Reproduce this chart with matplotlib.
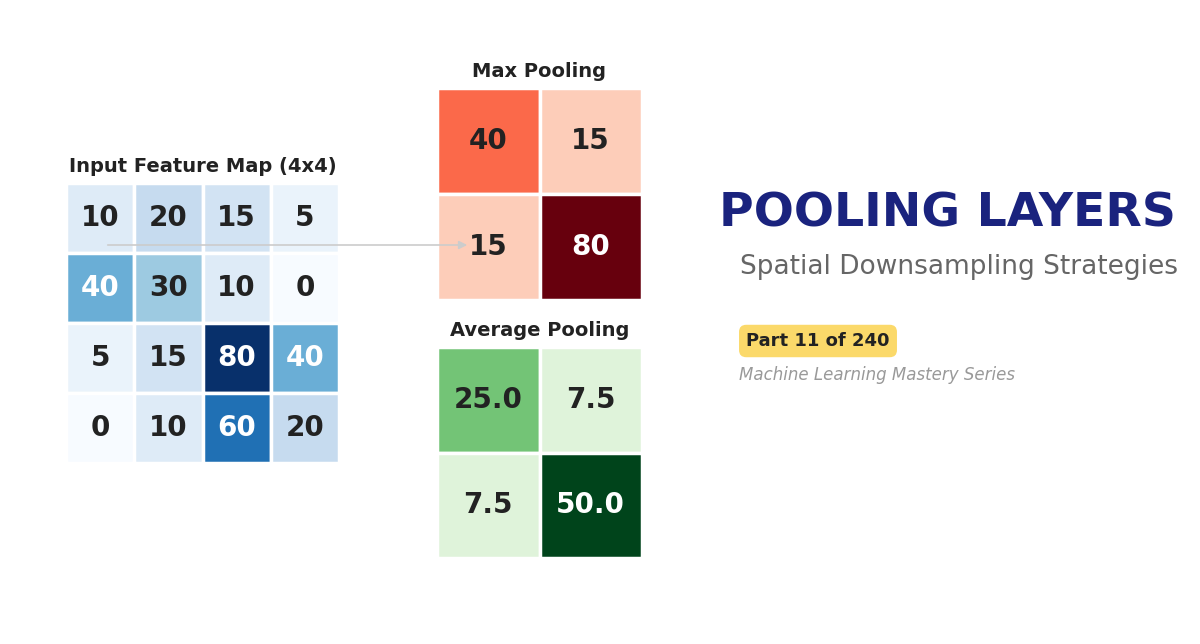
import matplotlib
matplotlib.use("Agg")
import matplotlib.pyplot as plt
import numpy as np

input_map = [[10, 20, 15, 5],
             [40, 30, 10, 0],
             [5, 15, 80, 40],
             [0, 10, 60, 20]]
max_pool = [[40, 15], [15, 80]]
avg_pool = [[25.0, 7.5], [7.5, 50.0]]

W, H = 1200, 644
fig = plt.figure(figsize=(12, 6.44), dpi=100)
fig.patch.set_facecolor("white")

def ax_px(x0, y0, x1, y1):
    return fig.add_axes([x0 / W, 1 - y1 / H, (x1 - x0) / W, (y1 - y0) / H])

def heat(ax, data, cmap, fmt, thresh, title):
    arr = np.array(data, dtype=float)
    n = arr.shape[0]
    cm = plt.get_cmap(cmap)
    vmax = arr.max()
    for i in range(n):
        for j in range(n):
            v = arr[i, j]
            ax.add_patch(plt.Rectangle((j, i), 1, 1, facecolor=cm(v / vmax * 1.0),
                                       edgecolor="white", linewidth=2.5))
            ax.text(j + 0.5, i + 0.5, fmt.format(v), ha="center", va="center",
                    fontsize=20, fontweight="bold",
                    color="white" if v / vmax >= thresh else "#222222")
    ax.set_xlim(0, n); ax.set_ylim(n, 0)
    ax.axis("off")
    ax.set_title(title, fontsize=14, fontweight="bold", color="#222222", pad=8)

ax1 = ax_px(66, 183, 339, 463)
heat(ax1, input_map, "Blues", "{:.0f}", 0.45, "Input Feature Map (4x4)")
ax2 = ax_px(437, 88, 642, 300)
heat(ax2, max_pool, "Reds", "{:.0f}", 0.6, "Max Pooling")
ax3 = ax_px(437, 347, 642, 558)
heat(ax3, avg_pool, "Greens", "{:.1f}", 0.6, "Average Pooling")

fig.add_artist(matplotlib.patches.FancyArrowPatch(
    (105 / W, 1 - 245 / H), (470 / W, 1 - 245 / H), transform=fig.transFigure,
    arrowstyle="-|>", mutation_scale=12, color="#cccccc", lw=1.2))

fig.text(1176 / W, 1 - 214 / H, "POOLING LAYERS", ha="right", va="center",
         fontsize=34, fontweight="bold", color="#1a237e")
fig.text(1178 / W, 1 - 267 / H, "Spatial Downsampling Strategies", ha="right", va="center",
         fontsize=19, color="#666666")
fig.text(818 / W, 1 - 341 / H, "Part 11 of 240", ha="center", va="center",
         fontsize=13, fontweight="bold", color="#222222",
         bbox=dict(boxstyle="round,pad=0.4", fc="#fbd96a", ec="none"))
fig.text(739 / W, 1 - 375 / H, "Machine Learning Mastery Series", ha="left", va="center",
         fontsize=12, style="italic", color="#999999")

fig.savefig("out.png", dpi=100, facecolor="white")
